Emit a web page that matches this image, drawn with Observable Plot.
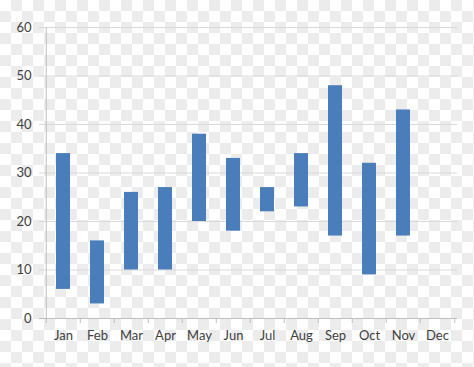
<!DOCTYPE html>
<html>
<head>
<meta charset="utf-8">
<script src="https://cdn.jsdelivr.net/npm/d3@7"></script>
<script src="https://cdn.jsdelivr.net/npm/@observablehq/plot@0.6"></script>
<style>
  html, body { margin: 0; padding: 0; }
  body {
    width: 474px; height: 367px; overflow: hidden;
    background-color: #ffffff;
    background-image:
      linear-gradient(45deg, #ececec 25%, transparent 25%, transparent 75%, #ececec 75%),
      linear-gradient(45deg, #ececec 25%, transparent 25%, transparent 75%, #ececec 75%);
    background-size: 22px 22px;
    background-position: 0 0, 11px 11px;
  }
  svg { display: block; background: transparent !important; }
</style>
</head>
<body>
<div id="chart"></div>
<script>
const months = ["Jan","Feb","Mar","Apr","May","Jun","Jul","Aug","Sep","Oct","Nov","Dec"];
const lows   = [6, 3, 10, 10, 20, 18, 22, 23, 17, 9, 17, null];
const highs  = [34, 16, 26, 27, 38, 33, 27, 34, 48, 32, 43, null];
const yTicks = [0, 10, 20, 30, 40, 50, 60];

const data = months.map((m, i) => ({month: m, low: lows[i], high: highs[i]}))
  .filter(d => d.low != null && d.high != null);

const W = 474, H = 367;
const mL = 43, mR = 17, mT = 27, mB = 49;
const step = (W - mL - mR) / months.length;
const font = "Lato, 'Open Sans', sans-serif";

const chart = Plot.plot({
  width: W,
  height: H,
  marginLeft: mL,
  marginRight: mR,
  marginTop: mT,
  marginBottom: mB,
  style: {fontFamily: font, fontSize: "13px", color: "#404040", background: "transparent"},
  x: {domain: months, paddingInner: 0.6, paddingOuter: 0.3, label: null},
  y: {domain: [0, 60], label: null},
  marks: [
    Plot.ruleY(yTicks.filter(t => t > 0), {y: d => d, stroke: "#d9d9d9", strokeWidth: 1, insetLeft: -4}),
    Plot.ruleY([0], {stroke: "#bfbfbf", strokeWidth: 1, insetLeft: -4}),
    Plot.ruleX([months[0]], {x: d => d, dx: -step / 2, y1: 0, y2: 60, stroke: "#bfbfbf"}),
    Plot.ruleX(months, {x: d => d, dx: -step / 2, y1: 0, y2: 0, insetBottom: -5, stroke: "#bfbfbf"}),
    Plot.ruleX([months[months.length - 1]], {x: d => d, dx: step / 2, y1: 0, y2: 0, insetBottom: -5, stroke: "#bfbfbf"}),
    Plot.barY(data, {x: "month", y1: "low", y2: "high", fill: "#4a7ebb"}),
    Plot.axisY({ticks: yTicks, tickSize: 0, tickPadding: 12, fontSize: 13, fill: "#404040", label: null}),
    Plot.axisX({tickSize: 0, tickPadding: 12, fontSize: 13, fill: "#404040", label: null})
  ]
});
document.getElementById("chart").appendChild(chart);
</script>
</body>
</html>
